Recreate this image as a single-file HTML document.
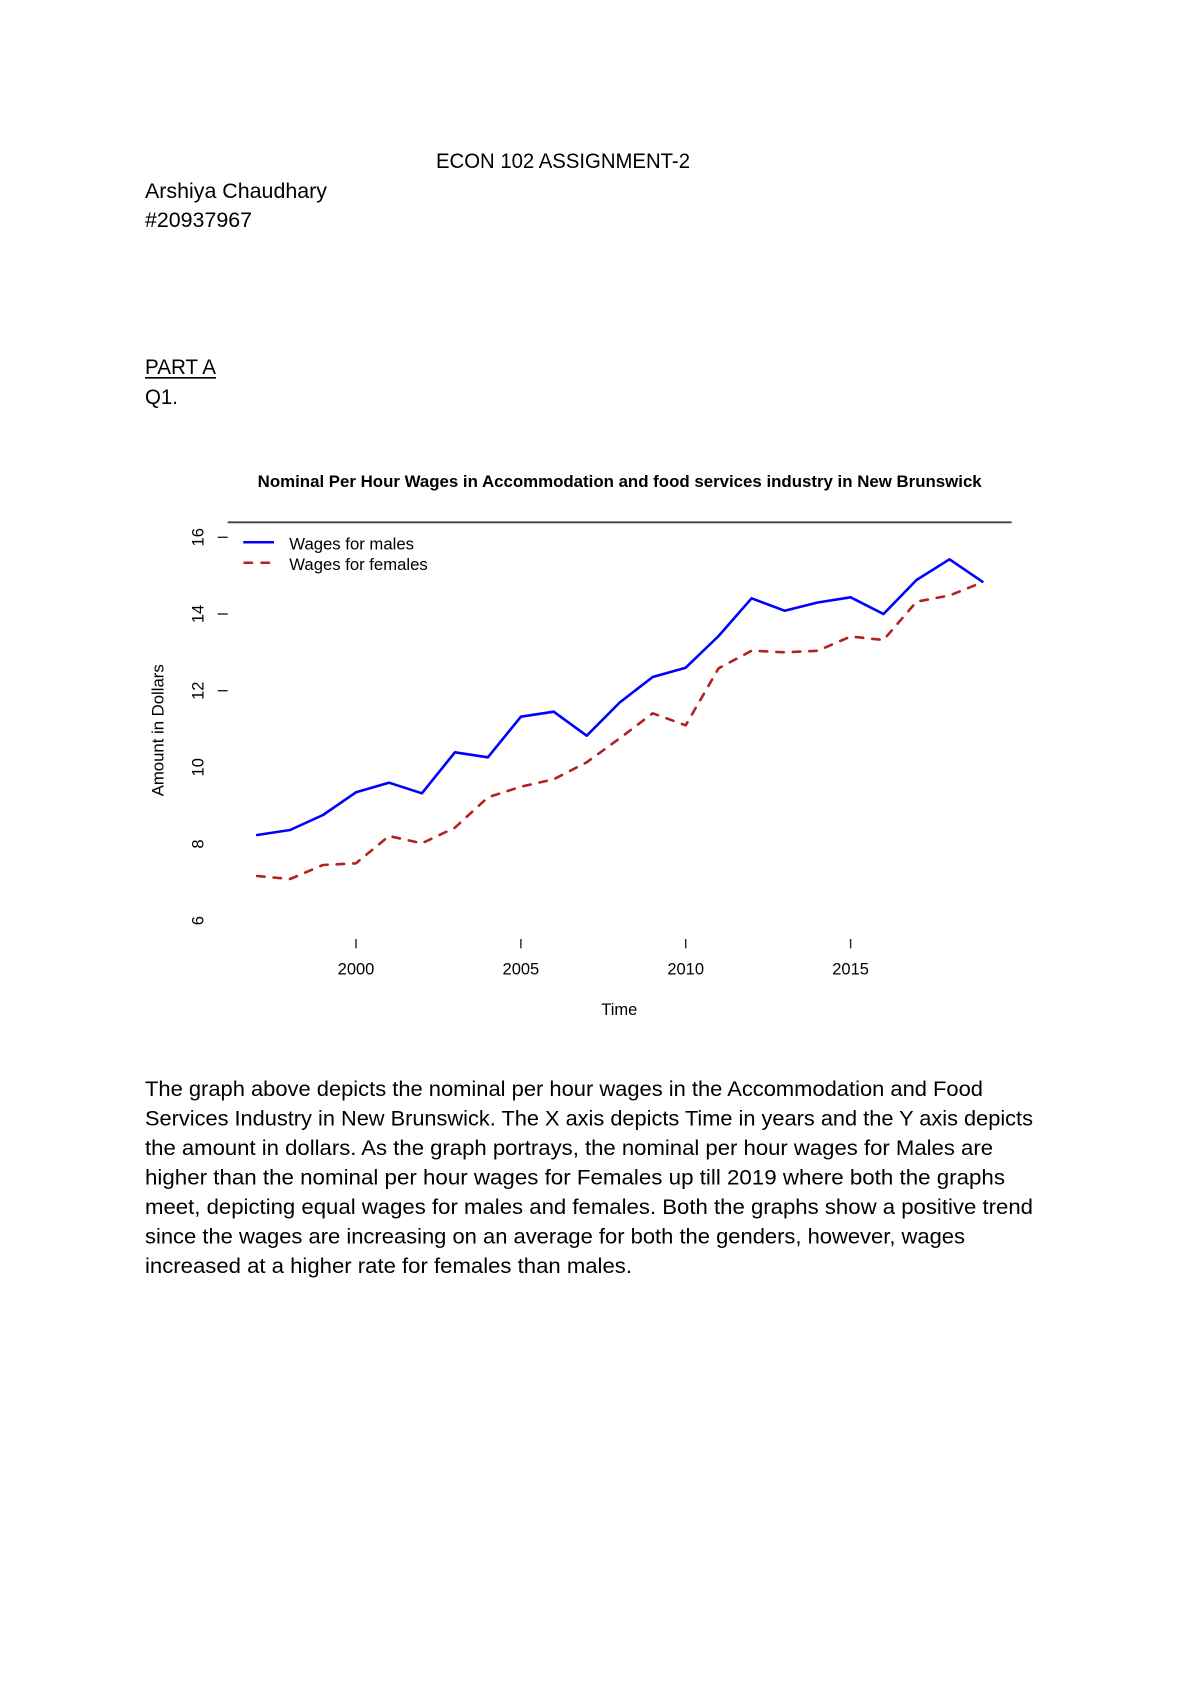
<!DOCTYPE html>
<html>
<head>
<meta charset="utf-8">
<style>
  html, body { margin: 0; padding: 0; background: #ffffff; }
  svg { display: block; }
  .doc { font-family: "Liberation Sans", "DejaVu Sans", sans-serif; font-size: 21.5px; fill: #000; }
  .ax { font-family: "Liberation Sans", Arial, sans-serif; font-size: 16.5px; fill: #000; }
</style>
</head>
<body>
<svg width="1200" height="1696" viewBox="0 0 1200 1696" xmlns="http://www.w3.org/2000/svg">
  <rect x="0" y="0" width="1200" height="1696" fill="#ffffff"/>

  <!-- Header -->
  <text class="doc" x="436" y="168" textLength="254" lengthAdjust="spacingAndGlyphs">ECON 102 ASSIGNMENT-2</text>
  <text class="doc" x="145" y="198" textLength="182" lengthAdjust="spacingAndGlyphs">Arshiya Chaudhary</text>
  <text class="doc" x="145" y="227" textLength="107" lengthAdjust="spacingAndGlyphs">#20937967</text>

  <text class="doc" x="145" y="374" textLength="71" lengthAdjust="spacingAndGlyphs">PART A</text>
  <rect x="145" y="377" width="71" height="1.6" fill="#000"/>
  <text class="doc" x="145" y="404" textLength="33" lengthAdjust="spacingAndGlyphs">Q1.</text>

  <!-- Chart title -->
  <text class="ax" x="257.7" y="487" font-weight="bold" textLength="724" lengthAdjust="spacingAndGlyphs">Nominal Per Hour Wages in Accommodation and food services industry in New Brunswick</text>

  <!-- top horizontal line -->
  <line x1="227.7" y1="522.3" x2="1011.7" y2="522.3" stroke="#404040" stroke-width="1.8"/>

  <!-- Y ticks -->
  <g stroke="#222" stroke-width="1.4">
    <line x1="217.7" y1="537.3" x2="227.7" y2="537.3"/>
    <line x1="217.7" y1="614" x2="227.7" y2="614"/>
    <line x1="217.7" y1="690.7" x2="227.7" y2="690.7"/>
  </g>
  <!-- Y tick labels (rotated) -->
  <g class="ax" text-anchor="middle" dominant-baseline="central">
    <text transform="translate(198.3,537.3) rotate(-90)">16</text>
    <text transform="translate(198.3,614) rotate(-90)">14</text>
    <text transform="translate(198.3,690.7) rotate(-90)">12</text>
    <text transform="translate(198.3,767.3) rotate(-90)">10</text>
    <text transform="translate(198.3,844) rotate(-90)">8</text>
    <text transform="translate(198.3,920.7) rotate(-90)">6</text>
  </g>
  <!-- Y axis label -->
  <text class="ax" text-anchor="middle" dominant-baseline="central" transform="translate(158.3,730.3) rotate(-90)" textLength="132" lengthAdjust="spacingAndGlyphs">Amount in Dollars</text>

  <!-- X ticks -->
  <g stroke="#222" stroke-width="1.4">
    <line x1="356" y1="939" x2="356" y2="948.3"/>
    <line x1="520.9" y1="939" x2="520.9" y2="948.3"/>
    <line x1="685.7" y1="939" x2="685.7" y2="948.3"/>
    <line x1="850.6" y1="939" x2="850.6" y2="948.3"/>
  </g>
  <g class="ax" text-anchor="middle" dominant-baseline="central">
    <text x="356" y="969.3">2000</text>
    <text x="520.9" y="969.3">2005</text>
    <text x="685.7" y="969.3">2010</text>
    <text x="850.6" y="969.3">2015</text>
    <text x="619.3" y="1010">Time</text>
  </g>

  <!-- Legend -->
  <line x1="243.3" y1="542.3" x2="274" y2="542.3" stroke="#0000ff" stroke-width="2.5"/>
  <line x1="244.5" y1="562.7" x2="274" y2="562.7" stroke="#b22222" stroke-width="2.5" stroke-linecap="round" stroke-dasharray="7.5 9.5"/>
  <text class="ax" x="289.3" y="549.3" textLength="124.7" lengthAdjust="spacingAndGlyphs">Wages for males</text>
  <text class="ax" x="289.3" y="570" textLength="138.4" lengthAdjust="spacingAndGlyphs">Wages for females</text>

  <!-- Series: males -->
  <polyline fill="none" stroke="#0000ff" stroke-width="2.6" stroke-linejoin="round" stroke-linecap="round"
    points="257.1,835 290.1,830 323,815 356,792.3 389,782.7 421.9,793.3 454.9,752.3 487.9,757.3 520.9,716.7 553.7,711.7 586.7,735.7 619.7,702.5 652.7,677 685.7,667.7 718.6,636 751.6,598.3 784.6,610.7 817.6,602.5 850.6,597.3 883.5,614 916.5,580 949.5,559.3 982.4,581.7"/>

  <!-- Series: females -->
  <polyline fill="none" stroke="#b22222" stroke-width="2.6" stroke-linejoin="round" stroke-linecap="round" stroke-dasharray="7.5 9"
    points="257.1,876 290.1,879 323,865 356,863.3 389,836 421.9,843.3 454.9,827.7 487.9,797.3 520.9,786.7 553.7,779.3 586.7,762.3 619.7,738.3 652.7,713.3 685.7,725.3 718.6,668.3 751.6,650.7 784.6,652.3 817.6,650.8 850.6,636.5 883.5,640 916.5,601.7 949.5,595.5 982.4,582.3"/>

  <!-- Paragraph -->
  <g class="doc" style="white-space:pre">
    <text x="145" y="1096" textLength="838" lengthAdjust="spacingAndGlyphs">The graph above depicts the nominal per hour wages in the Accommodation and Food</text>
    <text x="145" y="1125.5" textLength="888" lengthAdjust="spacingAndGlyphs">Services Industry in New Brunswick.  The X axis depicts Time in years and the Y axis depicts</text>
    <text x="145" y="1155" textLength="848" lengthAdjust="spacingAndGlyphs">the amount in dollars. As the graph portrays, the nominal per hour wages for Males are</text>
    <text x="145" y="1184.5" textLength="860" lengthAdjust="spacingAndGlyphs">higher than the nominal per hour wages for Females up till 2019 where both the graphs</text>
    <text x="145" y="1214" textLength="888" lengthAdjust="spacingAndGlyphs">meet, depicting equal wages for males and females. Both the graphs show a positive trend</text>
    <text x="145" y="1243.5" textLength="820" lengthAdjust="spacingAndGlyphs">since the wages are increasing on an average for both the genders, however, wages</text>
    <text x="145" y="1273" textLength="487" lengthAdjust="spacingAndGlyphs">increased at a higher rate for females than males.</text>
  </g>
</svg>
</body>
</html>
